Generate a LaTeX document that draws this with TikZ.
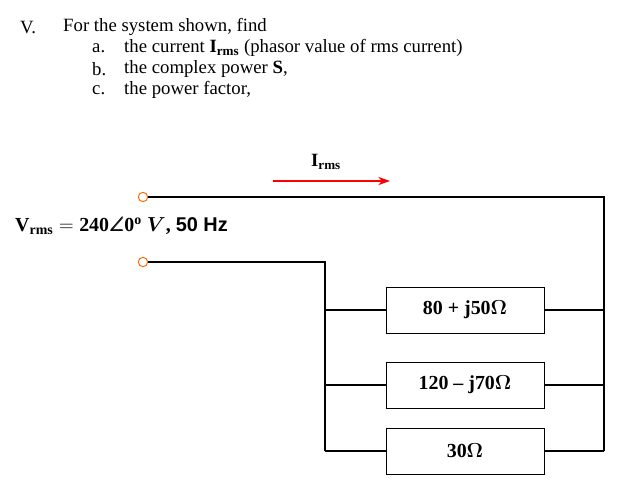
\documentclass[tikz,border=0pt]{standalone}
\usepackage{amsmath,amssymb,bm}
\usepackage{fontspec}
\setmainfont{Liberation Serif}
\newfontfamily\sansf{Liberation Sans}
\usetikzlibrary{arrows.meta}
\begin{document}
\begin{tikzpicture}[x=0.03cm,y=-0.03cm,
  wire/.style={line width=1.2pt},
  box/.style={draw,line width=0.6pt,minimum width=158*0.03cm,minimum height=46*0.03cm,inner sep=0pt},
  term/.style={circle,draw=orange!80!red,fill=white,minimum size=8pt,inner sep=0pt,line width=0.8pt},
  big/.style={font=\fontsize{16}{18}\selectfont},
  txt/.style={anchor=west,inner sep=0pt,big}]
\useasboundingbox (0,0) rectangle (635,491);
\node[txt] (v) at (20,27) {V.};
\node[txt] (q) at (63,27) {For the system shown, find};
\node[txt] (a) at (92,48) {a.};
\node[txt] (a2) at (124,48) {the current $\mathbf{I}_{\mathbf{rms}}$ (phasor value of rms current)};
\node[txt] (b) at (92,69) {b.};
\node[txt] (b2) at (124,69) {the complex power \textbf{S},};
\node[txt] (c) at (92,90) {c.};
\node[txt] (c2) at (124,90) {the power factor,};
\node[big] (il) at (326,162) {$\mathbf{I}_{\mathbf{rms}}$};
\coordinate (ia) at (273,181); \coordinate (ib) at (390,181);
\draw[red,line width=1.2pt,-{Stealth[length=10pt,width=7pt]}] (ia) -- (ib);
\node[txt,font=\fontsize{17}{19}\selectfont\bfseries] (vl) at (15,226) {$\mathbf{V}_{\mathbf{rms}}=\mathbf{240}\bm{\angle}\mathbf{0^o}\ \bm{V}$\textbf{, }{\sansf\bfseries 50 Hz}};
\node[term] (t1) at (143,197) {};
\node[term] (t2) at (143,262) {};
\coordinate (tr) at (604,197); \coordinate (br) at (604,451);
\coordinate (bl) at (325,262); \coordinate (bb) at (325,451);
\node[box,font=\fontsize{17}{19}\selectfont\bfseries] (z1) at (465,310) {80 + j50$\bm{\Omega}$};
\node[box,font=\fontsize{17}{19}\selectfont\bfseries] (z2) at (465,385) {120 -- j70$\bm{\Omega}$};
\node[box,font=\fontsize{17}{19}\selectfont\bfseries] (z3) at (465,451) {30$\bm{\Omega}$};
\draw[wire] (t1) -- (tr) -- (br);
\draw[wire] (t2) -- (bl) -- (bb);
\draw[wire] (325,310) -- (z1.west); \draw[wire] (z1.east) -- (604,310);
\draw[wire] (325,385) -- (z2.west); \draw[wire] (z2.east) -- (604,385);
\draw[wire] (bb) -- (z3.west); \draw[wire] (z3.east) -- (br);
\end{tikzpicture}
\end{document}
